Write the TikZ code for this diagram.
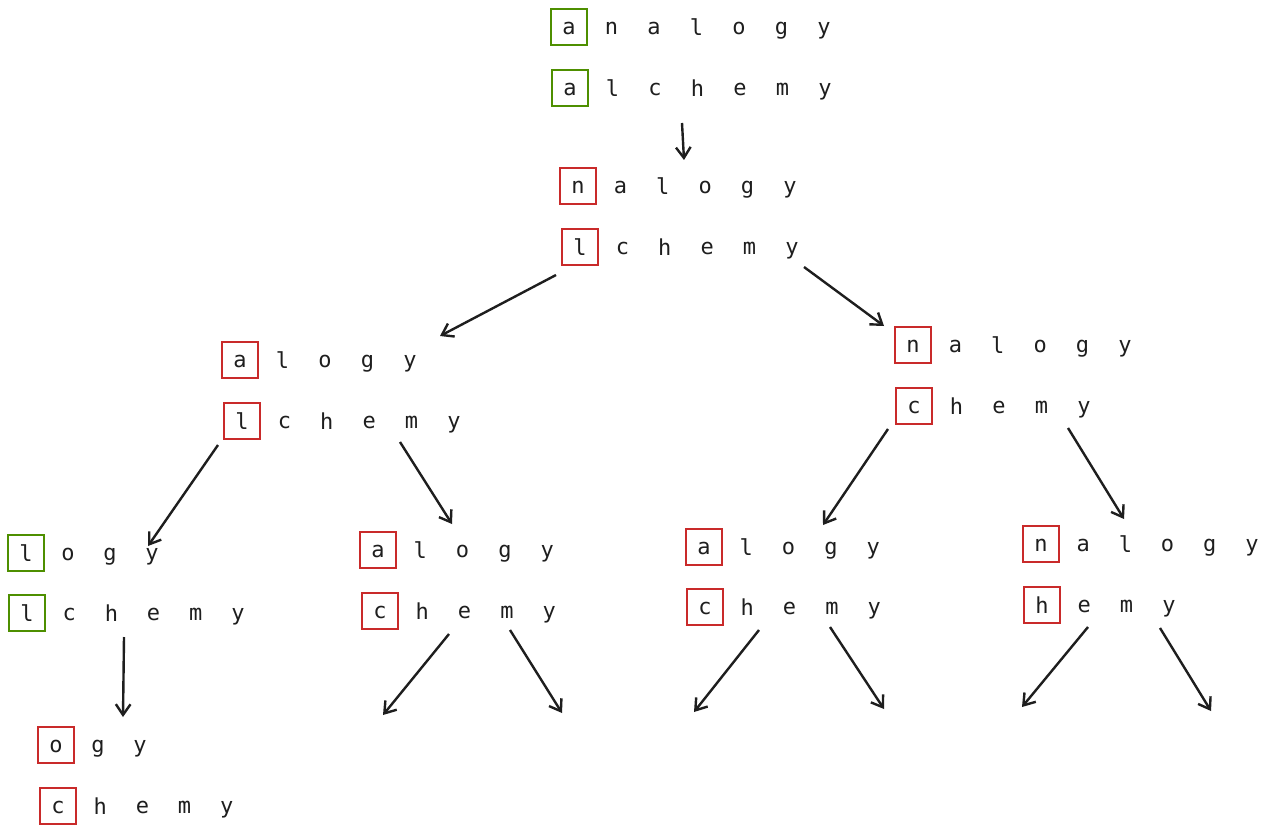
\documentclass[tikz,border=0pt]{standalone}
\usepackage{fontspec}
\setmonofont{DejaVu Sans Mono}
\usetikzlibrary{arrows.meta}
\definecolor{ink}{HTML}{1E1E1E}
\definecolor{gbox}{HTML}{4E8F00}
\definecolor{rbox}{HTML}{C92A2A}
\tikzset{
 let/.style={font=\ttfamily\fontsize{16.5}{16.5}\selectfont, text=ink, inner sep=0pt, yshift=-2.5pt},
 box/.style={draw=#1, line width=1.8pt, minimum size=27pt, inner sep=0pt},
 arr/.style={draw=ink, line width=1.8pt, -{Straight Barb[length=8pt,width=11pt]}}
}
\newcommand{\wrow}[5]{% x0, y, spacing, color, letters
 \node[box=#4] at (#1,#2) {};
 \foreach \l [count=\i] in {#5} \node[let] at ({#1+(\i-1)*#3},#2) {\strut\l};
}
\begin{document}
\begin{tikzpicture}[x=0.75pt,y=-0.75pt]
\useasboundingbox (0,0) rectangle (1280,831);
\wrow{569}{27}{42.5}{gbox}{a,n,a,l,o,g,y}
\wrow{570}{88}{42.5}{gbox}{a,l,c,h,e,m,y}
\wrow{578}{186}{42.4}{rbox}{n,a,l,o,g,y}
\wrow{580}{247}{42.4}{rbox}{l,c,h,e,m,y}
\wrow{240}{360}{42.5}{rbox}{a,l,o,g,y}
\wrow{242}{421}{42.4}{rbox}{l,c,h,e,m,y}
\wrow{913}{345}{42.4}{rbox}{n,a,l,o,g,y}
\wrow{914}{406}{42.5}{rbox}{c,h,e,m,y}
\wrow{26}{553}{42}{gbox}{l,o,g,y}
\wrow{27}{613}{42.2}{gbox}{l,c,h,e,m,y}
\wrow{378}{550}{42.3}{rbox}{a,l,o,g,y}
\wrow{380}{611}{42.3}{rbox}{c,h,e,m,y}
\wrow{704}{547}{42.3}{rbox}{a,l,o,g,y}
\wrow{705}{607}{42.3}{rbox}{c,h,e,m,y}
\wrow{1041}{544}{42.2}{rbox}{n,a,l,o,g,y}
\wrow{1042}{605}{42.3}{rbox}{h,e,m,y}
\wrow{56}{745}{42}{rbox}{o,g,y}
\wrow{58}{806}{42.2}{rbox}{c,h,e,m,y}
\foreach \n/\a/\b/\c/\d in {
 a1/682/123/684/160, a2/556/275/440/336, a3/804/267/884/326,
 a4/218/445/148/546, a5/400/442/452/524, a6/888/429/823/525, a7/1068/428/1124/519,
 a8/124/637/123/717, a9/449/634/383/715, a10/510/630/562/713, a11/759/630/694/712,
 a12/830/627/884/709, a13/1088/627/1022/707, a14/1160/628/1211/711}{
 \coordinate (\n s) at (\a,\b); \coordinate (\n e) at (\c,\d);
 \draw[arr] (\n s) -- (\n e);
}
\end{tikzpicture}
\end{document}
